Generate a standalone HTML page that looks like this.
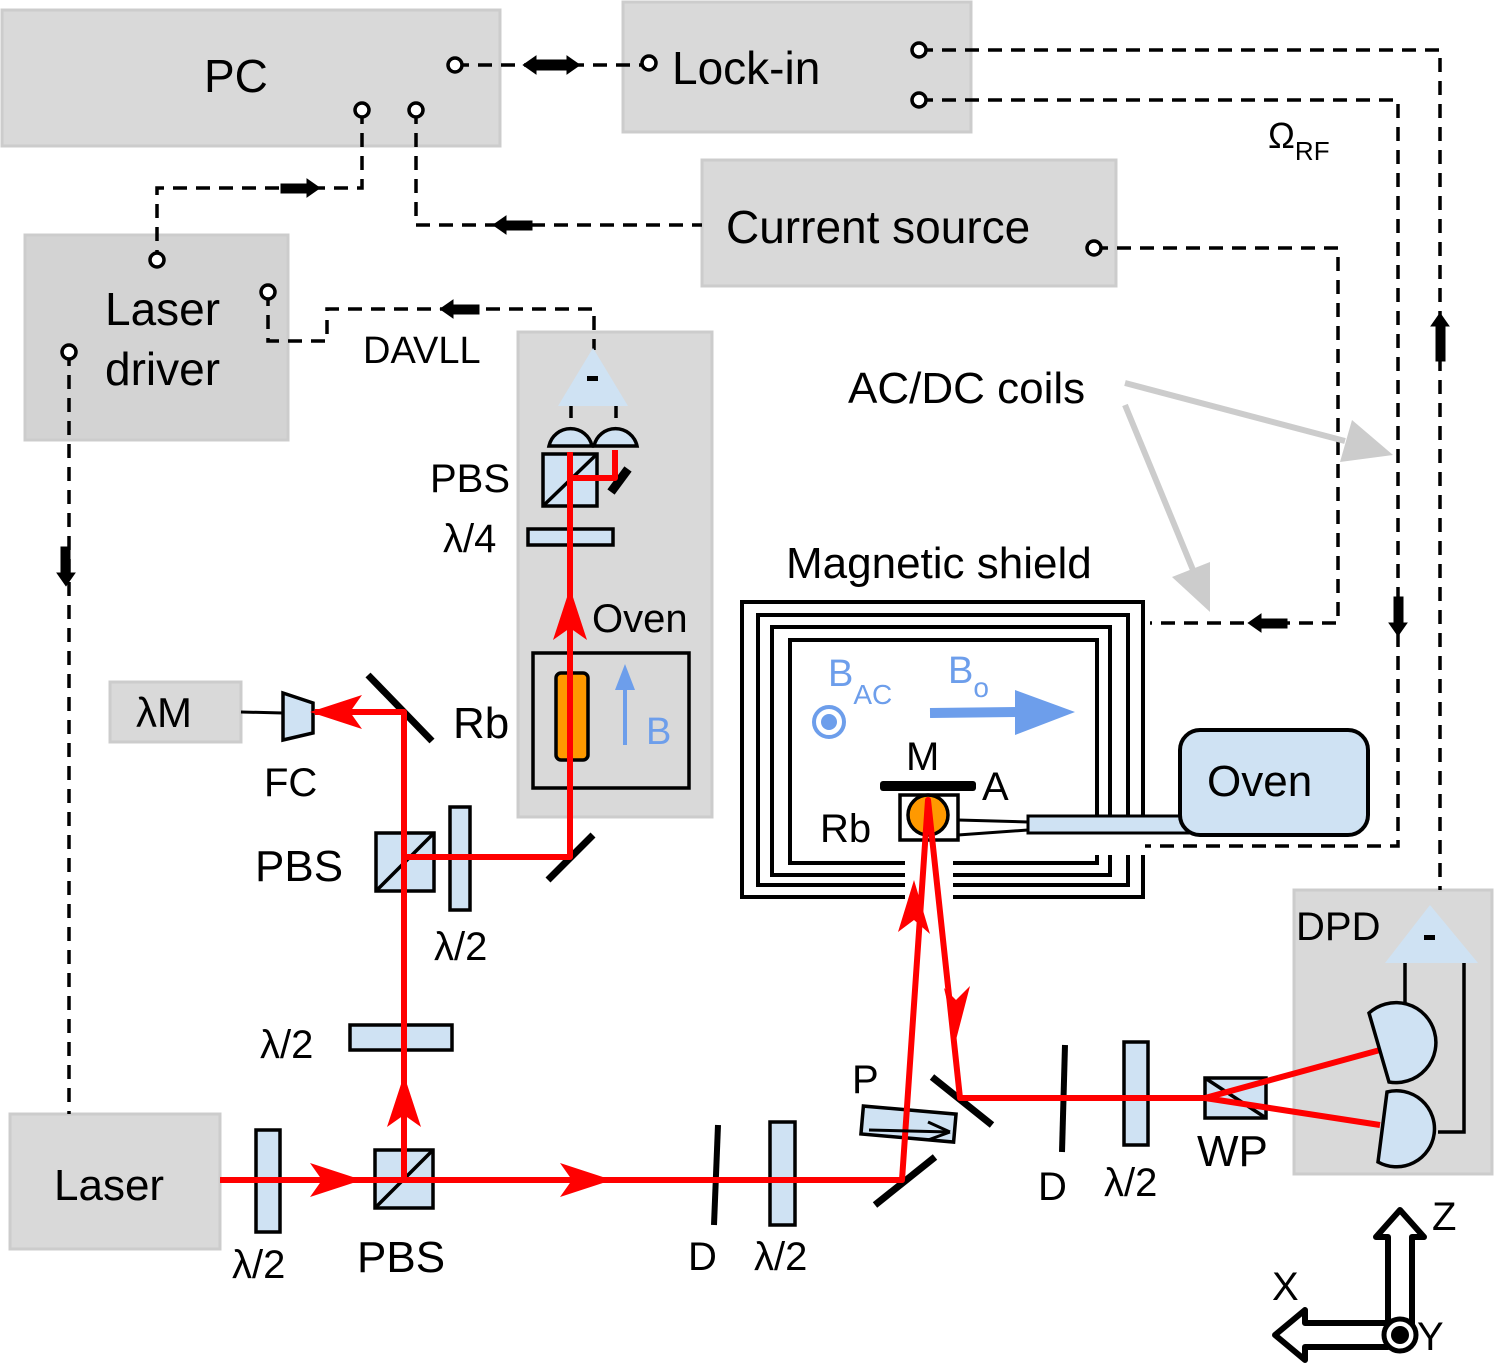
<!DOCTYPE html>
<html><head><meta charset="utf-8"><style>body{margin:0;background:#fff}svg{display:block}text{font-family:"Liberation Sans",Arial,sans-serif;fill:#000}</style></head><body>
<svg width="1494" height="1367" viewBox="0 0 1494 1367" xmlns="http://www.w3.org/2000/svg">
<defs>
<marker id="gA" markerWidth="6" markerHeight="6" refX="5" refY="3" orient="auto" markerUnits="strokeWidth"><path d="M0,0 L6,3 L0,6 z" fill="#ccc"/></marker>
</defs>
<g fill="#d9d9d9" stroke="#ccc" stroke-width="3">
<rect x="2" y="10" width="498" height="136"/>
<rect x="623" y="2" width="348" height="130"/>
<rect x="702" y="160" width="414" height="126"/>
<rect x="25" y="235" width="263" height="205" fill="#d3d3d3"/>
<rect x="518" y="332" width="194" height="485"/>
<rect x="110" y="682" width="131" height="60"/>
<rect x="10" y="1114" width="210" height="135"/>
<rect x="1294" y="890" width="198" height="284"/>
</g>
<g font-size="46">
<text x="204" y="92">PC</text>
<text x="672" y="84">Lock-in</text>
<text x="726" y="243">Current source</text>
<text x="105" y="325">Laser</text>
<text x="105" y="385">driver</text>
<text x="136" y="727" font-size="42">λM</text>
<text x="54" y="1200" font-size="44">Laser</text>
</g>
<!-- dashed lines -->
<g fill="none" stroke="#000" stroke-width="3.5" stroke-dasharray="14,9">
<path d="M455,65 H649"/>
<path d="M919,50 H1440 V890"/>
<path d="M919,100 H1398 V846 H1145"/>
<path d="M1094,248 H1338 V623 H1150"/>
<path d="M362,110 V188 H157 V260"/>
<path d="M416,110 V225 H702"/>
<path d="M268,292 V341 H327 V309 H594 V350"/>
<path d="M69,352 V1114"/>
</g>
<!-- small arrows on dashed -->
<g fill="#000" stroke="#000" stroke-width="3">
<path d="M525,65 L535,58 L535,72 z M578,65 L568,58 L568,72 z"/><rect x="534" y="61" width="35" height="8"/>
<rect x="282" y="185" width="28" height="7"/><path d="M318,188 L308,181 L308,195 z"/>
<rect x="503" y="222" width="28" height="7"/><path d="M495,225 L505,218 L505,232 z"/>
<rect x="450" y="306" width="28" height="7"/><path d="M442,309 L452,302 L452,316 z"/>
<rect x="1258" y="620" width="28" height="7"/><path d="M1250,623 L1260,616 L1260,630 z"/>
<rect x="62" y="548" width="7" height="28"/><path d="M66,584 L59,574 L73,574 z"/>
<rect x="1395" y="598" width="7" height="28"/><path d="M1398,634 L1391,624 L1405,624 z"/>
<rect x="1437" y="325" width="7" height="35"/><path d="M1440,315 L1433,325 L1447,325 z"/>
</g>
<!-- terminals -->
<g fill="#fff" stroke="#000" stroke-width="3.5">
<circle cx="455" cy="65" r="7"/><circle cx="649" cy="63" r="7"/>
<circle cx="919" cy="50" r="7"/><circle cx="919" cy="100" r="7"/>
<circle cx="362" cy="110" r="7"/><circle cx="416" cy="110" r="7"/>
<circle cx="1094" cy="248" r="7"/><circle cx="157" cy="260" r="7"/>
<circle cx="268" cy="292" r="7"/><circle cx="69" cy="352" r="7"/>
</g>
<text x="1268" y="148" font-size="36">Ω<tspan font-size="26" dy="12">RF</tspan></text>
<text x="363" y="363" font-size="38">DAVLL</text>
<text x="848" y="403" font-size="44">AC/DC coils</text>
<text x="786" y="578" font-size="44">Magnetic shield</text>
<!-- gray arrows -->
<g stroke="#ccc" stroke-width="6" fill="#ccc">
<line x1="1125" y1="383" x2="1345" y2="441"/><path d="M1393,455 L1340,462 L1352,420 z" stroke="none"/>
<line x1="1125" y1="405" x2="1193" y2="570"/><path d="M1210,612 L1172,577 L1210,562 z" stroke="none"/>
</g>
<!-- DAVLL internals -->
<path d="M558,406 L593,348 L628,406 z" fill="#cfe2f3"/>
<rect x="587" y="376" width="11" height="5" fill="#000"/>
<g stroke="#000" stroke-width="3.5">
<line x1="571" y1="406" x2="571" y2="418"/><line x1="616" y1="406" x2="616" y2="418"/>
<path d="M549,446 A22,22 0 0 1 592,446 z" fill="#cfe2f3"/>
<path d="M594,446 A22,22 0 0 1 637,446 z" fill="#cfe2f3"/>
<rect x="543" y="454" width="54" height="52" fill="#cfe2f3"/>
<line x1="543" y1="506" x2="597" y2="454"/>
<rect x="528" y="529" width="85" height="16" fill="#cfe2f3"/>
</g>
<line x1="611" y1="492" x2="628" y2="469" stroke="#000" stroke-width="9"/>
<rect x="533" y="653" width="156" height="135" fill="none" stroke="#000" stroke-width="3.5"/>
<rect x="556" y="673" width="32" height="87" rx="5" fill="#f90" stroke="#000" stroke-width="3.5"/>
<line x1="625" y1="745" x2="625" y2="690" stroke="#6d9eeb" stroke-width="4"/>
<path d="M625,664 L615,690 L635,690 z" fill="#6d9eeb"/>
<text x="646" y="744" font-size="38" fill="#6d9eeb" style="fill:#6d9eeb">B</text>
<g font-size="40">
<text x="430" y="492">PBS</text>
<text x="443" y="552">λ/4</text>
<text x="592" y="632">Oven</text>
<text x="453" y="738" font-size="44">Rb</text>
<text x="264" y="796">FC</text>
<text x="255" y="881" font-size="44">PBS</text>
<text x="434" y="960">λ/2</text>
<text x="260" y="1058">λ/2</text>
<text x="232" y="1278">λ/2</text>
<text x="357" y="1272" font-size="44">PBS</text>
<text x="688" y="1270">D</text>
<text x="754" y="1270">λ/2</text>
<text x="852" y="1093">P</text>
<text x="1038" y="1200">D</text>
<text x="1104" y="1196">λ/2</text>
<text x="1197" y="1166" font-size="44">WP</text>
<text x="1296" y="940">DPD</text>
<text x="820" y="842">Rb</text>
<text x="906" y="770">M</text>
<text x="982" y="800">A</text>
</g>
<!-- magnetic shield -->
<g fill="none" stroke="#000" stroke-width="4">
<path d="M1143,820 V602 H742 V897 H1143 V855"/>
<path d="M1128,820 V615 H758 V885 H1128 V855"/>
<path d="M1110,820 V627 H772 V875 H905 M953,875 H1110 V855"/>
<path d="M1097,820 V640 H790 V863 H905 M953,863 H1097 V855"/>
</g>
<rect x="905" y="860" width="48" height="40" fill="#fff"/>
<path d="M742,897 H905 M953,897 H1143" stroke="#000" stroke-width="4"/>
<path d="M758,885 H905 M953,885 H1128" stroke="#000" stroke-width="4"/>
<circle cx="829" cy="722" r="15" fill="none" stroke="#6d9eeb" stroke-width="4"/>
<circle cx="829" cy="722" r="8" fill="#6d9eeb"/>
<text x="828" y="686" font-size="38" style="fill:#6d9eeb">B<tspan font-size="28" dy="18">AC</tspan></text>
<text x="948" y="683" font-size="38" style="fill:#6d9eeb">B<tspan font-size="28" dy="14">o</tspan></text>
<line x1="930" y1="713" x2="1020" y2="712" stroke="#6d9eeb" stroke-width="10"/>
<path d="M1075,712 L1015,690 L1015,735 z" fill="#6d9eeb"/>
<rect x="880" y="781" width="96" height="10" rx="3" fill="#000"/>
<path d="M900,795 H958 V840 H900 z" fill="none" stroke="#000" stroke-width="3.5"/>
<circle cx="928" cy="815" r="20" fill="#f90" stroke="#000" stroke-width="3.5"/>
<path d="M958,820 L1028,822 M958,835 L1028,830" stroke="#000" stroke-width="3"/>
<rect x="1028" y="816" width="162" height="17" fill="#cfe2f3" stroke="#000" stroke-width="3"/>
<rect x="1180" y="730" width="188" height="105" rx="20" fill="#cfe2f3" stroke="#000" stroke-width="4"/>
<text x="1207" y="796" font-size="44">Oven</text>
<!-- optics -->
<g stroke="#000" stroke-width="3.5" fill="#cfe2f3">
<rect x="256" y="1130" width="24" height="102"/>
<rect x="375" y="1150" width="58" height="58"/><line x1="375" y1="1208" x2="433" y2="1150"/>
<rect x="350" y="1025" width="102" height="25"/>
<rect x="376" y="833" width="58" height="58"/><line x1="376" y1="891" x2="434" y2="833"/>
<rect x="450" y="807" width="20" height="103"/>
<path d="M283,693 L313,703 L313,733 L283,740 z"/>
<rect x="770" y="1122" width="25" height="103"/>
<rect x="1124" y="1042" width="24" height="103"/>
<rect x="1205" y="1078" width="61" height="40"/><line x1="1205" y1="1078" x2="1266" y2="1118"/>
<rect x="862" y="1110" width="93" height="28" transform="rotate(5 908 1124)"/>
</g>
<line x1="241" y1="712" x2="283" y2="713" stroke="#000" stroke-width="3"/>
<g stroke="#000" stroke-width="7">
<line x1="548" y1="880" x2="593" y2="835"/>
<line x1="368" y1="675" x2="432" y2="741"/>
<line x1="875" y1="1205" x2="935" y2="1157"/>
<line x1="932" y1="1077" x2="992" y2="1125"/>
<line x1="718" y1="1125" x2="714" y2="1225" stroke-width="6"/>
<line x1="1065" y1="1045" x2="1062" y2="1152" stroke-width="6"/>
</g>
<!-- red beams -->
<g stroke="#f00" stroke-width="6" fill="none" stroke-linejoin="round">
<path d="M220,1180 H902 L928,800 L960,1098 H1205"/>
<path d="M404,1180 V712 H315"/>
<path d="M404,857 H570 V452"/>
<path d="M570,478 H615 V450"/>
<path d="M1205,1098 L1380,1050 M1205,1098 L1380,1125"/>
</g>
<path d="M869,1130 L950,1132" stroke="#000" stroke-width="3"/><path d="M950,1132 L928,1122 M950,1132 L928,1140" stroke="#000" stroke-width="3"/>
<g fill="#f00">
<path d="M362,1180 L310,1163 L322,1180 L310,1197 z"/>
<path d="M612,1180 L560,1163 L572,1180 L560,1197 z"/>
<path d="M404,1075 L387,1127 L404,1115 L421,1127 z"/>
<path d="M310,712 L362,695 L350,712 L362,729 z"/>
<path d="M570,588 L553,640 L570,628 L587,640 z"/>
<path d="M914,880 L898,932 L914,920 L930,934 z"/>
<path d="M956,1040 L944,988 L956,1000 L970,986 z"/>
</g>
<!-- DPD -->
<path d="M1385,963 L1430,905 L1478,963 z" fill="#cfe2f3"/>
<rect x="1424" y="935" width="11" height="5" fill="#000"/>
<g stroke="#000" stroke-width="3.5" fill="#cfe2f3">
<path d="M1405,963 V1008 M1464,963 V1132 H1438" fill="none"/>
<path d="M1369,1013 A40,40 0 1 1 1389,1082 z"/>
<path d="M1387,1092 A38,38 0 1 1 1378,1162 z"/>
</g>
<!-- axes -->
<g stroke="#000" stroke-width="6" fill="#fff" stroke-linejoin="round">
<path d="M1388,1325 V1237 H1376 L1400,1210 L1424,1237 H1412 V1325 z"/>
<path d="M1388,1347 H1305 V1360 L1275,1335 L1305,1310 V1323 H1388 z"/>
</g>
<circle cx="1400" cy="1335" r="16" fill="#fff" stroke="#000" stroke-width="5"/>
<circle cx="1400" cy="1335" r="9" fill="#000"/>
<text x="1432" y="1230" font-size="40">Z</text>
<text x="1272" y="1300" font-size="40">X</text>
<text x="1417" y="1350" font-size="40">Y</text>
</svg>
</body></html>
